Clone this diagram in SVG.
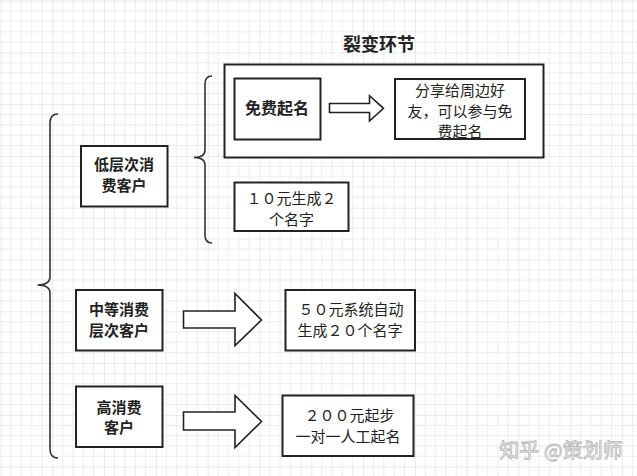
<svg xmlns="http://www.w3.org/2000/svg" width="637" height="476" viewBox="0 0 637 476">
<defs>
<pattern id="grid" x="0.5" y="0.5" width="51.8" height="51.8" patternUnits="userSpaceOnUse">
<path d="M10.36 0V51.8M20.72 0V51.8M31.08 0V51.8M41.44 0V51.8M0 10.36H51.8M0 20.72H51.8M0 31.08H51.8M0 41.44H51.8" stroke="#ececec" stroke-width="1" fill="none"/>
<path d="M0 0V51.8M0 0H51.8" stroke="#d6d6d6" stroke-width="1" fill="none"/>
</pattern>
<style>
.box{fill:#fff;stroke:#222;stroke-width:2}
.arrow{fill:#fff;stroke:#222;stroke-width:1.6;stroke-linejoin:miter}
.brace{fill:none;stroke:#333;stroke-width:1.6}
.t{font-family:"Noto Sans CJK SC","Noto Sans",sans-serif;font-size:15px;fill:#222;text-anchor:middle}
.b{font-weight:bold}
.big{font-size:16px}
.title{font-size:18px;font-weight:bold}
.wm{font-family:"Noto Sans CJK SC",sans-serif;font-size:20px;fill:#fff;stroke:#b5b5b5;stroke-width:0.8;text-anchor:middle}
</style>
</defs>
<rect width="637" height="476" fill="#fff"/>
<rect width="637" height="476" fill="url(#grid)"/>

<text class="t title" x="379" y="51">裂变环节</text>

<g id="fission">
<rect class="box" x="224.5" y="64.5" width="319" height="93"/>
</g>
<g id="free">
<rect class="box" x="234.5" y="78.5" width="86" height="61"/>
<text class="t b big" x="277" y="114">免费起名</text>
</g>
<g id="share">
<rect class="box" x="395" y="79" width="130" height="60"/>
<text class="t" x="460" y="96">分享给周边好</text>
<text class="t" x="460" y="116.5">友，可以参与免</text>
<text class="t" x="460" y="137">费起名</text>
</g>
<g id="low">
<rect class="box" x="81" y="146" width="86.5" height="60.5"/>
<text class="t b" x="124" y="170">低层次消</text>
<text class="t b" x="124" y="190.5">费客户</text>
</g>
<g id="ten">
<rect class="box" x="234.5" y="182.5" width="114" height="48.5"/>
<text class="t" x="291.5" y="204">１０元生成２</text>
<text class="t" x="291.5" y="224.5">个名字</text>
</g>
<g id="mid">
<rect class="box" x="76" y="290" width="86.5" height="60.5"/>
<text class="t b" x="119" y="315">中等消费</text>
<text class="t b" x="119" y="335.5">层次客户</text>
</g>
<g id="fifty">
<rect class="box" x="285.5" y="290" width="129.5" height="60.5"/>
<text class="t" x="351" y="315">５０元系统自动</text>
<text class="t" x="350" y="335.5">生成２０个名字</text>
</g>
<g id="high">
<rect class="box" x="76" y="386.5" width="86.5" height="60.5"/>
<text class="t b" x="119" y="412.5">高消费</text>
<text class="t b" x="119" y="433">客户</text>
</g>
<g id="twohundred">
<rect class="box" x="282.5" y="395.5" width="131" height="60.5"/>
<text class="t" x="349.5" y="421">２００元起步</text>
<text class="t" x="348" y="441.5">一对一人工起名</text>
</g>

<g id="connectors">
<polygon class="arrow" points="329.5,103.5 369.5,103.5 369.5,95.7 383.5,108.3 369.5,121 369.5,112.5 329.5,112.5"/>
<polygon class="arrow" points="183.5,311 235,311 235,293.5 261.5,320 235,345.5 235,328 183.5,328"/>
<polygon class="arrow" points="183.5,412 235,412 235,395.5 261.5,421.5 235,447.5 235,430 183.5,430"/>
<path class="brace" d="M212,76 Q205,76 205,84 V150 Q205,157.5 194,157.5 Q205,157.5 205,165 V235 Q205,243 212,243"/>
<path class="brace" d="M58,114 Q50,114 50,123 V277 Q50,285 37.5,285 Q50,285 50,293 V449 Q50,458 58,458"/>
</g>

<text class="wm" x="561" y="458">知乎 @策划师</text>
</svg>
